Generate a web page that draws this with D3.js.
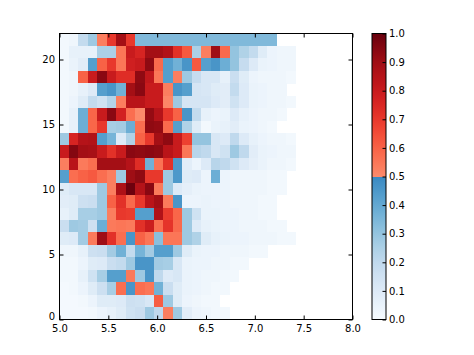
<!DOCTYPE html>
<html>
<head>
<meta charset="utf-8">
<script src="https://cdn.jsdelivr.net/npm/d3@7"></script>
<style>
  body { margin: 0; background: #fff; }
  svg { display: block; font-family: "DejaVu Sans", sans-serif; }
</style>
</head>
<body>
<div id="chart"></div>
<script>
// grid: 31 columns over x 5..8, 23 rows over y 0..22
const xRange = [5, 8];
const yRange = [0, 22];
const nCols = 31;
const nRows = 23;

const xTicks = [5.0, 5.5, 6.0, 6.5, 7.0, 7.5, 8.0];
const yTicks = [0, 5, 10, 15, 20];
const cbTicks = [0.0, 0.1, 0.2, 0.3, 0.4, 0.5, 0.6, 0.7, 0.8, 0.9, 1.0];

// cell values, top row first, left column first (missing cells are empty)
const cellValues = [
  [0.02,0.03,0.19,0.28,0.53,0.70,0.89,0.70,0.34,0.34,0.34,0.34,0.34,0.34,0.34,0.34,0.34,0.34,0.34,0.34,0.34,0.34,0.34],
  [0.02,0.06,0.06,0.06,0.25,0.25,0.55,0.80,0.76,0.89,0.89,0.86,0.72,0.62,0.25,0.53,0.90,0.58,0.30,0.24,0.19,0.09,0.04,0.03,0.03],
  [0.02,0.05,0.08,0.43,0.60,0.70,0.55,0.78,0.80,0.93,0.58,0.43,0.37,0.46,0.62,0.43,0.46,0.38,0.30,0.18,0.10,0.05,0.04,0.03,0.03],
  [0.02,0.03,0.60,0.80,0.94,0.80,0.73,0.73,0.93,0.82,0.55,0.43,0.53,0.28,0.18,0.12,0.12,0.06,0.17,0.09,0.04,0.03,0.03,0.03,0.02],
  [0.02,0.03,0.06,0.10,0.43,0.46,0.37,0.89,0.94,0.80,0.80,0.53,0.46,0.43,0.13,0.12,0.09,0.08,0.19,0.10,0.05,0.04,0.03,0.03],
  [0.02,0.04,0.09,0.19,0.15,0.23,0.53,0.84,0.84,0.80,0.80,0.51,0.28,0.13,0.13,0.13,0.10,0.08,0.15,0.10,0.05,0.04,0.03,0.03,0.02],
  [0.02,0.06,0.38,0.59,0.80,0.94,0.77,0.57,0.50,0.92,0.85,0.70,0.60,0.46,0.19,0.06,0.04,0.05,0.10,0.06,0.04,0.03,0.03,0.02],
  [0.02,0.06,0.38,0.59,0.70,0.26,0.27,0.38,0.57,0.93,0.92,0.58,0.43,0.24,0.09,0.02,0.05,0.06,0.08,0.05,0.04,0.03,0.02],
  [0.28,0.76,0.85,0.86,0.43,0.36,0.10,0.24,0.60,0.70,0.89,0.93,0.80,0.68,0.30,0.30,0.12,0.10,0.20,0.10,0.06,0.04,0.03,0.03,0.02],
  [0.80,0.95,0.89,0.88,0.80,0.72,0.80,0.94,0.93,0.94,0.93,0.84,0.80,0.55,0.22,0.20,0.12,0.15,0.28,0.20,0.08,0.05,0.04,0.03,0.03],
  [0.53,0.84,0.54,0.57,0.89,0.89,0.89,0.85,0.73,0.37,0.56,0.72,0.45,0.08,0.04,0.10,0.22,0.20,0.15,0.10,0.07,0.05,0.03,0.03,0.02],
  [0.43,0.57,0.60,0.62,0.57,0.53,0.28,0.90,0.93,0.70,0.70,0.28,0.45,0.09,0.10,0.04,0.38,0.04,0.03,0.03,0.03,0.03,0.02,0.02],
  [0.09,0.12,0.12,0.12,0.28,0.53,0.87,0.99,0.85,0.94,0.54,0.28,0.10,0.07,0.05,0.04,0.04,0.04,0.03,0.03,0.03,0.03,0.02,0.02],
  [0.08,0.09,0.16,0.17,0.28,0.60,0.72,0.58,0.70,0.84,0.89,0.54,0.46,0.04,0.04,0.05,0.04,0.04,0.03,0.03,0.03,0.02,0.02],
  [0.06,0.09,0.26,0.26,0.28,0.53,0.70,0.69,0.43,0.43,0.86,0.69,0.59,0.28,0.15,0.05,0.05,0.04,0.04,0.03,0.03,0.02,0.02],
  [0.17,0.28,0.27,0.16,0.38,0.54,0.55,0.54,0.72,0.79,0.57,0.71,0.58,0.28,0.10,0.06,0.05,0.04,0.04,0.03,0.03,0.03,0.02,0.02],
  [0.09,0.10,0.27,0.54,0.90,0.72,0.57,0.46,0.60,0.55,0.32,0.55,0.55,0.28,0.24,0.09,0.06,0.05,0.04,0.04,0.03,0.03,0.03,0.02,0.02],
  [0.03,0.03,0.06,0.16,0.17,0.27,0.37,0.19,0.36,0.27,0.43,0.43,0.28,0.09,0.05,0.04,0.04,0.03,0.03,0.03,0.02,0.02],
  [0.02,0.02,0.04,0.09,0.10,0.17,0.19,0.28,0.46,0.46,0.27,0.26,0.12,0.05,0.04,0.04,0.03,0.03,0.02,0.02],
  [0.02,0.02,0.06,0.15,0.26,0.43,0.43,0.54,0.28,0.46,0.20,0.10,0.12,0.05,0.04,0.03,0.03,0.02,0.02],
  [0.01,0.02,0.04,0.09,0.16,0.26,0.57,0.46,0.57,0.55,0.37,0.17,0.09,0.05,0.04,0.03,0.02,0.02],
  [0.01,0.01,0.02,0.04,0.09,0.09,0.10,0.16,0.15,0.12,0.61,0.28,0.09,0.04,0.03,0.02,0.02],
  [0.01,0.01,0.01,0.02,0.04,0.06,0.09,0.15,0.17,0.28,0.20,0.53,0.28,0.08,0.04,0.03,0.02,0.02]
];

const width = 474, height = 355;
const plot = { left: 59.5, right: 352.5, top: 33.5, bottom: 319.5 };
const cbar = { left: 372, right: 386 };

// blues for the lower half, reds for the upper half
function colorOf(v) {
    if (v < 0.5) return d3.interpolateBlues(v / 0.5 * 0.66);
    return d3.interpolateReds(0.4 + (v - 0.5) / 0.5 * 0.6);
}

const svg = d3.select("#chart").append("svg")
    .attr("width", width)
    .attr("height", height);

const x = d3.scaleLinear().domain(xRange).range([plot.left, plot.right]);
const y = d3.scaleLinear().domain(yRange).range([plot.bottom, plot.top]);

const xEdges = d3.range(nCols + 1).map(i => xRange[0] + (xRange[1] - xRange[0]) * i / nCols);
const yEdges = d3.range(nRows + 1).map(i => yRange[0] + (yRange[1] - yRange[0]) * i / nRows);

// flatten grid into cells
const cells = cellValues.flatMap((row, ri) => {
    const r = nRows - 1 - ri;
    return row.map((v, c) => ({ r, c, v })).filter(d => d.v !== null);
});

svg.append("g")
    .attr("shape-rendering", "crispEdges")
    .selectAll("rect")
    .data(cells)
    .join("rect")
    .attr("x", d => x(xEdges[d.c]))
    .attr("y", d => y(yEdges[d.r + 1]))
    .attr("width", d => x(xEdges[d.c + 1]) - x(xEdges[d.c]) + 0.3)
    .attr("height", d => y(yEdges[d.r]) - y(yEdges[d.r + 1]) + 0.3)
    .attr("fill", d => colorOf(d.v));

// axes, ticks pointing inward on all four sides
function styleAxis(g) {
    g.select(".domain").remove();
    g.selectAll("text").attr("font-size", 10).attr("fill", "#000").attr("font-family", "DejaVu Sans");
    g.selectAll("line").attr("stroke", "#000");
}

svg.append("g")
    .attr("transform", `translate(0,${plot.bottom})`)
    .call(d3.axisBottom(x).tickValues(xTicks).tickFormat(d3.format(".1f")).tickSizeInner(-4).tickSizeOuter(0).tickPadding(5.5))
    .call(styleAxis);

svg.append("g")
    .attr("transform", `translate(0,${plot.top})`)
    .call(d3.axisTop(x).tickValues(xTicks).tickFormat("").tickSizeInner(-4).tickSizeOuter(0))
    .call(styleAxis);

const yAxisG = svg.append("g")
    .attr("transform", `translate(${plot.left},0)`)
    .call(d3.axisLeft(y).tickValues(yTicks).tickFormat(d3.format("d")).tickSizeInner(-4).tickSizeOuter(0).tickPadding(4.5))
    .call(styleAxis);

// lift the "0" label a little so it clears the "5.0" below it
yAxisG.selectAll(".tick text").filter(d => d === 0).attr("y", -3);

svg.append("g")
    .attr("transform", `translate(${plot.right},0)`)
    .call(d3.axisRight(y).tickValues(yTicks).tickFormat("").tickSizeInner(-4).tickSizeOuter(0))
    .call(styleAxis);

svg.append("rect")
    .attr("x", plot.left).attr("y", plot.top)
    .attr("width", plot.right - plot.left).attr("height", plot.bottom - plot.top)
    .attr("fill", "none").attr("stroke", "#000").attr("stroke-width", 1);

// colorbar
const cb = d3.scaleLinear().domain([0, 1]).range([plot.bottom, plot.top]);

const grad = svg.append("defs").append("linearGradient")
    .attr("id", "cbGrad")
    .attr("x1", 0).attr("y1", 1).attr("x2", 0).attr("y2", 0);

const stops = d3.range(0, 1.0001, 0.02).flatMap(t => {
    if (Math.abs(t - 0.5) < 1e-6) return [{ o: 0.5, c: colorOf(0.4999) }, { o: 0.5, c: colorOf(0.5) }];
    return [{ o: t, c: colorOf(Math.min(t, 1)) }];
});
grad.selectAll("stop").data(stops).join("stop")
    .attr("offset", d => d.o)
    .attr("stop-color", d => d.c);

svg.append("rect")
    .attr("x", cbar.left).attr("y", plot.top)
    .attr("width", cbar.right - cbar.left).attr("height", plot.bottom - plot.top)
    .attr("fill", "url(#cbGrad)")
    .attr("stroke", "#000").attr("stroke-width", 1);

svg.append("g")
    .attr("transform", `translate(${cbar.right},0)`)
    .call(d3.axisRight(cb).tickValues(cbTicks).tickFormat(d3.format(".1f")).tickSizeInner(-3.5).tickSizeOuter(0).tickPadding(3))
    .call(styleAxis);
</script>
</body>
</html>
